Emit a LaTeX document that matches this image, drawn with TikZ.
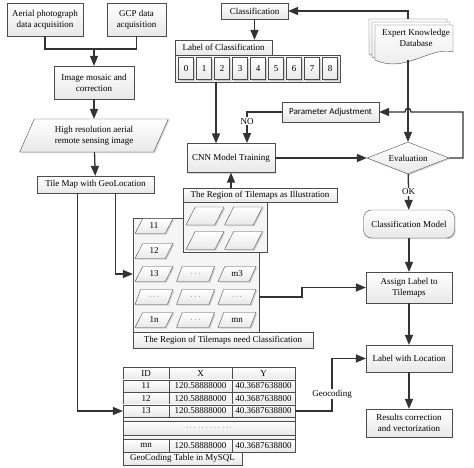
\documentclass[tikz,border=0pt]{standalone}
\usepackage{fontspec}
\setmainfont{Liberation Serif}
\newfontfamily\calib{Carlito}
\usetikzlibrary{arrows,shapes.geometric,shadows}
\newcommand\tdots{{\scriptsize$\cdots$}}

\begin{document}
\begin{tikzpicture}[x=1pt,y=-1pt,
	box/.style={draw=gray!60!black, top color=white, bottom color=gray!18, drop shadow={opacity=0.3,shadow xshift=1.2pt,shadow yshift=-1.2pt}, align=center, inner sep=1pt, font=\small},
	area/.style={draw=gray!60!black, fill=gray!8, drop shadow={opacity=0.3,shadow xshift=1.2pt,shadow yshift=-1.2pt}},
	page/.style={draw=gray!60!black, top color=white, bottom color=gray!18},
	tile/.style={box, trapezium, trapezium left angle=65, trapezium right angle=115, trapezium stretches=true, inner sep=1pt},
	cell/.style={box, minimum height=12.5pt, inner sep=0pt},
	flow/.style={draw=black!80, line width=1.3pt, -triangle 45},
	link/.style={draw=black!80, line width=1.3pt}]
	\useasboundingbox (0,0) rectangle (474,468);
	% left column
		\node[box, minimum width=76pt, minimum height=33pt] (aerial) at (45,19.5) {Aerial photograph\\data acquisition};
		\node[box, minimum width=59pt, minimum height=33pt] (gcp) at (136.5,19.5) {GCP data\\acquisition};
		\node[box, minimum width=80pt, minimum height=33pt] (mosaic) at (94,82.5) {Image mosaic and\\correction};
		\node[tile, minimum width=150pt, minimum height=33pt] (hires) at (94,135.5) {High resolution aerial\\remote sensing image};
		\node[box, minimum width=117pt, minimum height=17pt] (tilemap) at (95.5,184.5) {Tile Map with GeoLocation};
	% classification labels
		\node[box, minimum width=67pt, minimum height=16pt] (classif) at (254.5,11) {Classification};
		\node[box, minimum width=165pt, minimum height=27pt] (labrow) at (257.5,68.5) {};
		\node[box, minimum width=97pt, minimum height=15pt] (labhead) at (223.5,47.5) {Label of Classification};
		\foreach \n in {0,...,8}
			\node[cell, minimum width=15pt, minimum height=22pt] (c\n) at (186+18*\n,68.5) {\n};
	% expert knowledge database
		\foreach \d in {6,3,0}
			\draw[page] (375-\d,25-\d) -- (453-\d,25-\d) -- (453-\d,52-\d) .. controls (430-\d,46-\d) and (405-\d,74-\d) .. (375-\d,60-\d) -- cycle;
		\node[align=center, font=\small] (expert) at (416,38) {Expert Knowledge\\Database};
		\coordinate (exptop) at (408,19);
		\coordinate (expbot) at (408,60);
	% training loop
		\node[box, font=\small\calib, minimum width=97pt, minimum height=20pt] (param) at (330.5,112) {Parameter Adjustment};
		\node[box, minimum width=88pt, minimum height=29pt] (cnn) at (231,158) {CNN Model Training};
		\node[box, diamond, shape aspect=2.6, minimum width=82pt, minimum height=32pt, inner sep=0pt] (eval) at (408,158) {Evaluation};
		\node[box, rounded corners=8pt, minimum width=91pt, minimum height=28pt] (clsmodel) at (409,224) {Classification Model};
		\node[box, minimum width=86pt, minimum height=31pt] (assign) at (409,287.5) {Assign Label to\\Tilemaps};
		\node[box, minimum width=86pt, minimum height=27pt] (labloc) at (409,358.5) {Label with Location};
		\node[box, minimum width=86pt, minimum height=28pt] (results) at (409,423) {Results correction\\and vectorization};
	% tilemap regions
		\node[area, minimum width=126pt, minimum height=114pt] (need) at (196,275) {};
		\node[area, minimum width=84pt, minimum height=50pt] (illus) at (225,227) {};
		\node[box, minimum width=154pt, minimum height=14pt] (illushead) at (260,195) {The Region of Tilemaps as Illustration};
		\foreach \i/\xx/\yy in {1/205/216, 2/243.5/216, 3/205/240.5, 4/243.5/240.5}
			\node[tile, minimum width=38pt, minimum height=18pt] (il\i) at (\xx,\yy) {};
		\node[tile, minimum width=38pt, minimum height=15pt] (t11) at (154,226) {11};
		\node[tile, minimum width=38pt, minimum height=15pt] (t21) at (154,251) {12};
		\foreach \r/\yy/\ta/\tb/\tc in {3/274/13/\tdots/m3, 4/297/\tdots/\tdots/\tdots, 5/320/1n/\tdots/mn}{
			\node[tile, minimum width=38pt, minimum height=15pt] (t\r1) at (154,\yy) {\ta};
			\node[tile, minimum width=38pt, minimum height=15pt] (t\r2) at (195.5,\yy) {\tb};
			\node[tile, minimum width=38pt, minimum height=15pt] (t\r3) at (237,\yy) {\tc};
		}
		\node[box, minimum width=180pt, minimum height=16pt] (needfoot) at (223,340) {The Region of Tilemaps need Classification};
	% geocoding table
		\node[cell, minimum width=46pt, minimum height=13pt] (hid) at (146,373.5) {ID};
		\node[cell, minimum width=63pt, minimum height=13pt] (hx) at (200.5,373.5) {X};
		\node[cell, minimum width=63pt, minimum height=13pt] (hy) at (263.5,373.5) {Y};
		\foreach \id/\yy in {11/386, 12/398.5, 13/411, mn/445.5}{
			\node[cell, minimum width=46pt] (id\id) at (146,\yy) {\id};
			\node[cell, minimum width=63pt] (x\id) at (200.5,\yy) {120.58888000};
			\node[cell, minimum width=63pt] (y\id) at (263.5,\yy) {40.3687638800};
		}
		\node[cell, minimum width=172pt, minimum height=4pt] (gap1) at (209,419) {};
		\node[cell, minimum width=172pt, minimum height=14pt] (dotrow) at (209,428) {\tdots\ \tdots\ \tdots\ \tdots};
		\node[cell, minimum width=172pt, minimum height=4pt] (gap2) at (209,437) {};
		\node[cell, minimum width=119pt, minimum height=13pt] (tabfoot) at (182.5,458.5) {GeoCoding Table in MySQL};
	% connectors
		\coordinate (join) at (94,49);
		\draw[link] (aerial.south) |- (join) -| (gcp.south);
		\draw[flow] (join) -- (mosaic.north);
		\draw[flow] (mosaic) -- (hires);
		\draw[flow] (hires) -- (tilemap);
		\draw[flow] (exptop) |- (classif.east);
		\draw[flow] (classif) -- (classif |- labhead.north);
		\coordinate (lab2) at (216,82);
		\draw[flow] (lab2) -- (lab2 |- cnn.north);
		\coordinate (cnnno) at (247,143);
		\draw[flow] (param.west) -| node[pos=0.65, fill=white, inner sep=1pt, font=\small] {NO} (cnnno);
		\draw[flow] (cnn) -- (eval);
		\coordinate (fb) at (463,112);
		\draw[flow] (eval.east) -| (fb) -- (411,112) .. controls (411,107) and (405,107) .. (405,112) -- (param.east);
		\draw[flow] (expbot) -- (eval.north);
		\draw[flow] (eval) -- node[fill=white, inner sep=1pt, font=\small] {OK} (clsmodel);
		\draw[flow] (clsmodel) -- (assign);
		\draw[flow] (assign) -- (labloc);
		\draw[flow] (labloc) -- (results);
		\draw[flow] (cnn |- illushead.north) -- (cnn);
		\draw[flow] ([xshift=20pt]tilemap.south) |- (need.west |- t31);
		\draw[flow] ([xshift=-18pt]tilemap.south) |- (hid.west |- id13);
		\coordinate (stepc) at (302,293);
		\draw[flow] (need.east |- t42) -| (stepc) |- (assign.west);
		\coordinate (geo) at (332,385);
		\draw[flow] (y13.east) -| (geo) |- (labloc.west);
		\node[fill=white, inner sep=1pt, font=\small] (geolab) at (332,394) {Geocoding};
	\end{tikzpicture}
\end{document}
